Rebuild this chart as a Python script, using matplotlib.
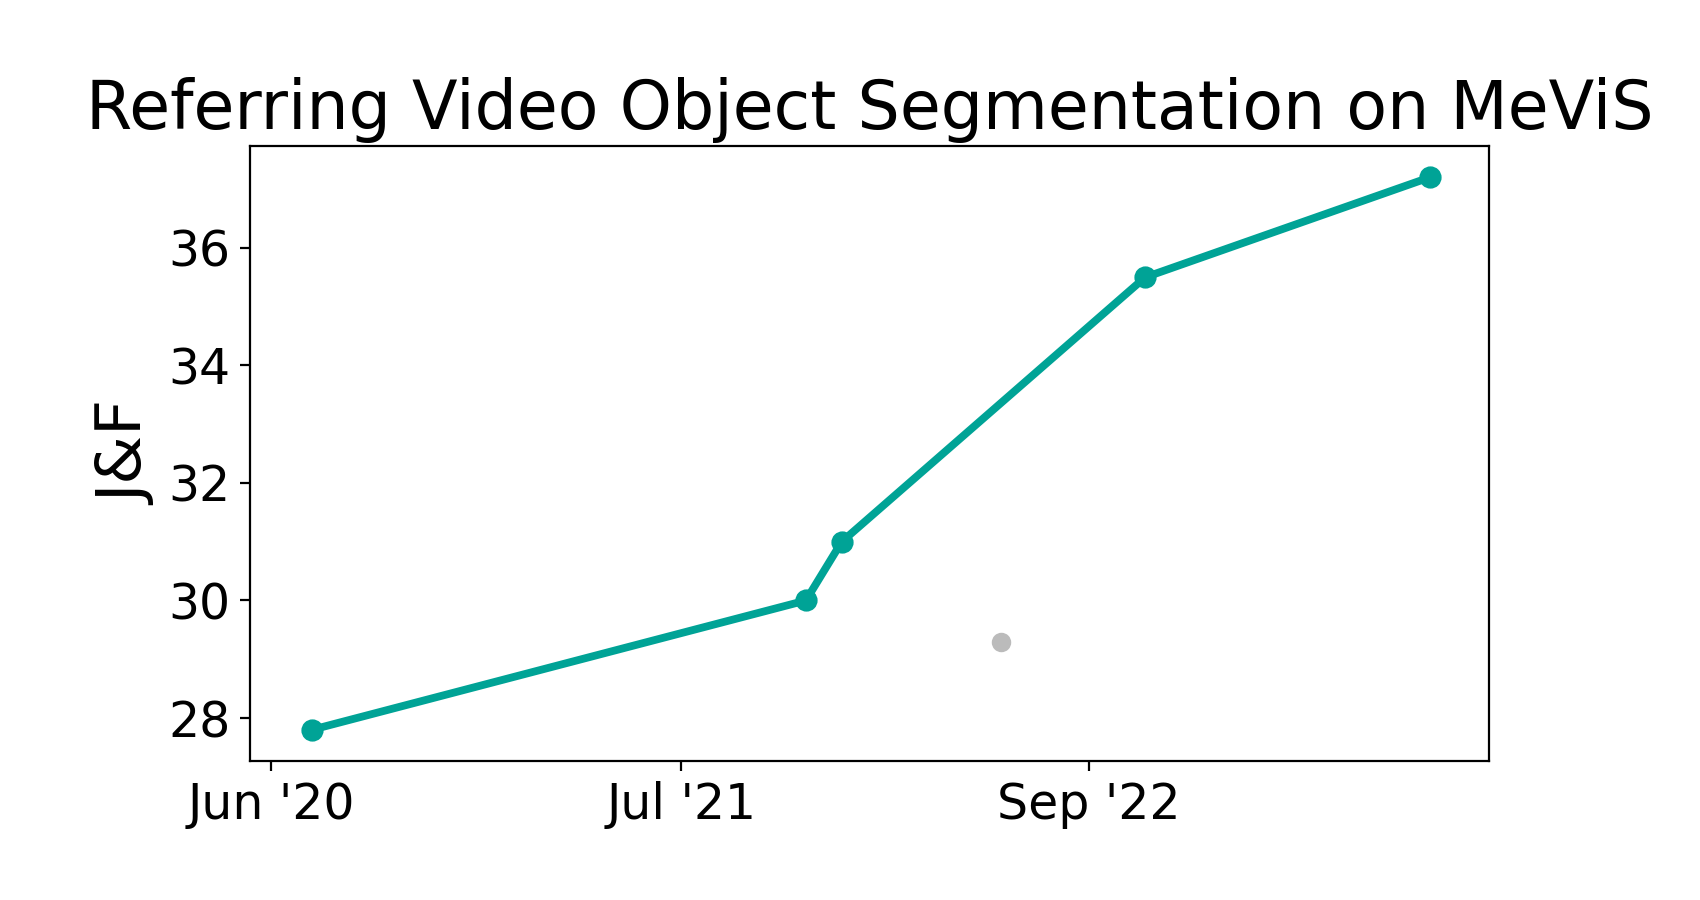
import numpy as np
import matplotlib
matplotlib.use("Agg")
import matplotlib.pyplot as plt
import pandas as pd

# MeViS results (J&F)
sota_methods = ["URVOS", "MTTR", "ReferFormer", "VLT+TC", "LMPM"]
sota_dates = ["2020-07-22", "2021-11-29", "2022-01-04", "2022-11-04", "2023-08-16"]
sota_scores = [27.8, 30.0, 31.0, 35.5, 37.2]

other_methods = ["LBDT"]
other_dates = ["2022-06-13"]
other_scores = [29.3]

tick_dates = ["2020-06-11", "2021-07-27", "2022-09-09"]
tick_labels = ["Jun '20", "Jul '21", "Sep '22"]
y_ticks = [28, 30, 32, 34, 36]

TEAL = "#00a396"
GREY = "#bbbbbb"


def main():
    fig = plt.figure(figsize=(8.5, 4.5), dpi=200)
    ax = fig.add_axes([0.1471, 0.1539, 0.8761 - 0.1471, 0.8381 - 0.1539])

    ax.plot(pd.to_datetime(other_dates), other_scores, "o", color=GREY,
            markersize=6, zorder=2)
    ax.plot(pd.to_datetime(sota_dates), sota_scores, "-o", color=TEAL,
            linewidth=2.8, markersize=7, zorder=3)

    ax.set_xlim(pd.Timestamp("2020-05-21"), pd.Timestamp("2023-10-15"))
    ax.set_ylim(27.26, 37.74)
    ax.set_xticks(pd.to_datetime(tick_dates))
    ax.set_xticklabels(tick_labels)
    ax.set_yticks(y_ticks)
    ax.tick_params(labelsize=17.6)

    ax.set_ylabel("J&F", fontsize=22.5)
    ax.set_title("Referring Video Object Segmentation on MeViS", fontsize=24.0)

    fig.savefig("out.png", dpi=200)
    plt.close(fig)


if __name__ == "__main__":
    main()
